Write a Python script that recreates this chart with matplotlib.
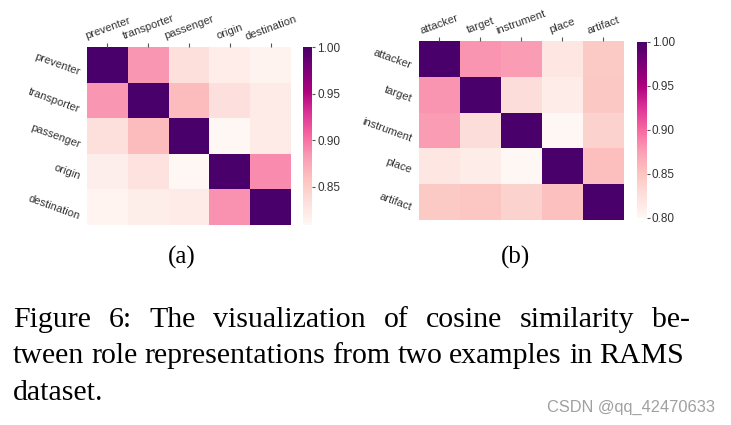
import numpy as np
import matplotlib
matplotlib.use('Agg')
import matplotlib.pyplot as plt
import seaborn as sns

roles_a = ['preventer', 'transporter', 'passenger', 'origin', 'destination']
sim_a = [[1.000, 0.885, 0.834, 0.820, 0.814],
         [0.885, 1.000, 0.862, 0.833, 0.822],
         [0.834, 0.862, 1.000, 0.809, 0.822],
         [0.818, 0.831, 0.809, 1.000, 0.889],
         [0.812, 0.819, 0.821, 0.887, 1.000]]
ticks_a = [0.85, 0.90, 0.95, 1.00]

roles_b = ['attacker', 'target', 'instrument', 'place', 'artifact']
sim_b = [[1.000, 0.880, 0.876, 0.818, 0.846],
         [0.880, 1.000, 0.828, 0.812, 0.847],
         [0.876, 0.828, 1.000, 0.800, 0.838],
         [0.818, 0.812, 0.800, 1.000, 0.854],
         [0.846, 0.848, 0.838, 0.853, 1.000]]
ticks_b = [0.80, 0.85, 0.90, 0.95, 1.00]

caption = ['Figure 6:  The visualization of cosine similarity be-',
           'tween role representations from two examples in RAMS',
           'dataset.']

plt.rcParams['font.family'] = ['Liberation Sans', 'DejaVu Sans']

W, H = 731, 425
fig = plt.figure(figsize=(W / 100, H / 100), dpi=100)


def box(x0, y0, x1, y1):
    # pixel box (from top-left) -> figure fraction
    return [x0 / W, 1 - y1 / H, (x1 - x0) / W, (y1 - y0) / H]


def draw(ax_box, cb_box, mat, roles, cb_ticks):
    ax = fig.add_axes(box(*ax_box))
    cax = fig.add_axes(box(*cb_box))
    sns.heatmap(np.array(mat), cmap='RdPu', ax=ax, cbar_ax=cax,
                xticklabels=roles, yticklabels=roles)
    ax.xaxis.tick_top()
    ax.tick_params(axis='x', top=True, length=3, width=0.8, color='#555555',
                   pad=1, labelsize=8, labelcolor='#333333')
    ax.tick_params(axis='y', left=False, length=0, pad=4,
                   labelsize=8, labelcolor='#333333')
    plt.setp(ax.get_xticklabels(), rotation=20, ha='center')
    plt.setp(ax.get_yticklabels(), rotation=-20, ha='right', va='center')
    cax.set_yticks(cb_ticks)
    cax.set_yticklabels(['%.2f' % t for t in cb_ticks])
    cax.tick_params(length=2.5, width=0.8, pad=1, labelsize=8.5,
                    labelcolor='#333333', color='#555555')
    return ax


draw((87, 47, 291, 225), (303, 47, 312.3, 225), sim_a, roles_a, ticks_a)
draw((418.5, 41, 624, 220), (636.7, 41.7, 646.7, 218), sim_b, roles_b, ticks_b)

fig.text(182 / W, 1 - 257 / H, '(a)', fontsize=18, family='Liberation Serif',
         ha='center', va='center')
fig.text(515 / W, 1 - 257 / H, '(b)', fontsize=18, family='Liberation Serif',
         ha='center', va='center')

cap_size = 21.5
r = fig.canvas.get_renderer()


def justify(line, y, x0, x1):
    words = line.split()
    texts = [fig.text(0, 1 - y / H, w, fontsize=cap_size,
                      family='Liberation Serif', va='baseline') for w in words]
    widths = [t.get_window_extent(r).width for t in texts]
    gap = (x1 - x0 - sum(widths)) / (len(words) - 1)
    x = x0
    for t, w in zip(texts, widths):
        t.set_x(x / W)
        x += w + gap


justify(caption[0], 327, 13, 690)
justify(caption[1], 363, 13, 684)
fig.text(13 / W, 1 - 400 / H, caption[2], fontsize=cap_size,
         family='Liberation Serif', va='baseline')

fig.text(715 / W, 1 - 407 / H, 'CSDN @qq_42470633', fontsize=11.8,
         color='#a0a0a0', ha='right', va='center')

fig.savefig('out.png', dpi=100)
